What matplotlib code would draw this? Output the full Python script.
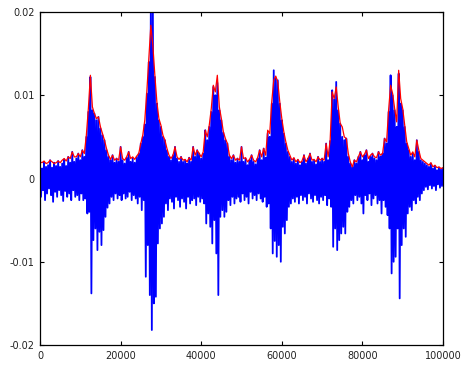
import numpy as np
import matplotlib
matplotlib.use('Agg')
import matplotlib.pyplot as plt

# one reading every 500 samples, from 0 to 100000
step = 500

# blue waveform: highest value in each 500-sample block (x 1e-3)
blueUpper = [1.8, 1.2, 2.0, 1.4, 1.6, 2.2, 1.3, 1.9, 1.5, 2.1,
             1.4, 1.8, 2.3, 1.5, 2.6, 1.9, 3.2, 2.0, 2.4, 3.0,
             2.2, 3.4, 2.6, 5.0, 8.0, 12.2, 8.2, 7.8, 7.0, 7.4,
             6.0, 5.2, 4.6, 3.4, 2.6, 2.2, 2.8, 1.9, 2.4, 2.0,
             3.8, 2.2, 1.8, 2.5, 3.2, 2.0, 2.4, 1.9, 2.6, 3.0,
             4.2, 5.0, 6.5, 10.2, 14.0, 21.0, 21.0, 12.2, 9.0, 7.0,
             6.2, 5.0, 4.6, 3.4, 2.6, 2.2, 2.8, 3.8, 2.4, 2.0,
             2.6, 2.0, 2.2, 1.8, 2.5, 2.0, 3.8, 2.6, 3.4, 3.0,
             2.4, 3.0, 5.8, 4.6, 6.2, 8.0, 11.0, 10.0, 11.5, 8.2,
             7.0, 5.5, 4.6, 4.2, 2.6, 2.2, 2.8, 1.9, 2.4, 2.0,
             3.8, 2.0, 2.4, 1.6, 2.2, 2.8, 2.0, 1.7, 2.4, 3.4,
             2.2, 3.6, 2.5, 5.4, 5.0, 9.0, 13.0, 12.0, 11.8, 9.0,
             7.0, 5.4, 4.2, 3.2, 2.6, 2.0, 2.4, 1.8, 2.2, 1.6,
             2.0, 2.8, 1.8, 2.4, 3.0, 2.0, 2.2, 1.7, 2.6, 2.0,
             2.4, 2.0, 4.2, 2.2, 4.5, 10.6, 9.5, 11.6, 8.2, 6.6,
             5.0, 4.6, 4.8, 2.6, 1.8, 1.4, 2.2, 1.8, 2.6, 3.2,
             2.2, 2.8, 3.4, 2.0, 2.6, 3.0, 2.4, 2.2, 3.2, 2.6,
             3.0, 4.8, 4.2, 8.0, 12.4, 10.0, 8.2, 6.2, 12.6, 9.0,
             8.2, 6.2, 4.2, 3.4, 2.6, 3.0, 2.2, 4.6, 3.2, 2.2,
             2.0, 1.8, 1.6, 1.4, 1.8, 1.2, 1.5, 1.0, 1.3, 1.1,
             1.2]
# blue waveform: lowest value in each 500-sample block (x 1e-3)
blueLower = [-2.2, -1.4, -2.6, -1.8, -1.2, -2.0, -2.8, -1.6, -2.2, -1.4,
             -2.0, -2.7, -1.5, -2.2, -1.8, -2.6, -1.4, -2.2, -2.0, -2.6,
             -1.8, -2.6, -2.4, -4.2, -4.0, -13.8, -7.4, -6.0, -8.6, -6.4,
             -8.0, -6.2, -4.6, -3.5, -3.0, -2.2, -2.6, -1.8, -2.4, -2.0,
             -2.6, -1.8, -2.4, -2.2, -1.6, -2.6, -2.0, -2.4, -3.0, -2.2,
             -3.8, -2.6, -11.8, -8.0, -14.0, -18.2, -15.0, -14.2, -7.8, -6.0,
             -5.4, -4.6, -3.0, -3.8, -2.4, -2.8, -3.6, -2.2, -2.6, -3.4,
             -2.4, -2.8, -3.6, -2.2, -3.0, -2.6, -2.4, -3.2, -2.2, -2.8,
             -2.4, -3.0, -5.4, -4.2, -5.8, -7.8, -5.0, -9.0, -14.0, -4.6,
             -3.8, -4.6, -4.0, -2.6, -3.2, -2.2, -3.0, -2.4, -2.2, -2.8,
             -1.8, -2.6, -2.2, -3.0, -1.6, -2.4, -2.0, -2.6, -1.8, -2.4,
             -2.8, -2.2, -3.4, -3.0, -6.0, -9.0, -7.5, -9.4, -8.0, -10.0,
             -5.8, -6.6, -5.0, -3.4, -3.0, -2.4, -2.8, -2.2, -3.0, -2.0,
             -2.6, -2.2, -3.0, -1.8, -2.4, -2.8, -2.0, -2.6, -3.0, -2.2,
             -2.6, -2.0, -3.2, -2.4, -3.4, -8.2, -6.0, -8.6, -7.4, -6.6,
             -5.8, -6.6, -4.0, -3.4, -2.6, -3.0, -2.0, -2.6, -2.2, -3.0,
             -4.2, -2.0, -2.6, -1.8, -3.2, -2.4, -2.0, -3.0, -2.6, -4.2,
             -2.6, -3.4, -4.4, -6.0, -11.4, -10.0, -9.4, -6.0, -14.4, -8.0,
             -6.0, -7.0, -4.2, -3.4, -3.8, -2.6, -3.0, -2.2, -2.6, -1.8,
             -1.4, -1.0, -1.3, -0.8, -1.2, -0.9, -1.4, -0.7, -1.1, -0.9,
             -1.0]
# red envelope (x 1e-3)
redEnv = [2.0, 1.9, 2.1, 1.8, 1.9, 2.2, 2.0, 1.8, 1.9, 2.1,
          1.9, 2.2, 2.4, 2.1, 2.6, 2.4, 3.2, 2.6, 2.6, 3.0,
          2.6, 3.4, 3.0, 5.2, 8.4, 12.4, 8.6, 7.8, 7.2, 7.4,
          6.2, 5.4, 4.6, 3.6, 2.8, 2.3, 2.8, 2.2, 2.4, 2.2,
          3.8, 2.4, 2.2, 2.6, 3.2, 2.4, 2.6, 2.3, 2.7, 3.0,
          4.2, 5.2, 7.0, 10.4, 14.5, 18.4, 16.0, 12.4, 9.2, 7.2,
          6.4, 5.2, 4.6, 3.6, 2.8, 2.4, 2.8, 3.8, 2.6, 2.3,
          2.6, 2.2, 2.3, 2.0, 2.5, 2.2, 3.8, 2.8, 3.4, 3.0,
          2.6, 3.2, 5.8, 5.0, 6.4, 8.4, 11.2, 10.4, 12.4, 8.6,
          7.2, 5.6, 4.8, 4.2, 2.8, 2.4, 2.8, 2.2, 2.4, 2.2,
          3.8, 2.4, 2.5, 2.0, 2.3, 2.8, 2.2, 2.0, 2.5, 3.4,
          2.6, 3.6, 2.8, 5.8, 5.4, 9.2, 11.8, 12.3, 11.6, 9.2,
          7.2, 5.6, 4.4, 3.4, 2.8, 2.2, 2.5, 2.0, 2.3, 1.9,
          2.1, 2.8, 2.0, 2.4, 3.0, 2.2, 2.3, 2.0, 2.6, 2.2,
          2.4, 2.2, 4.2, 2.6, 4.6, 10.4, 9.6, 11.0, 8.6, 6.6,
          6.2, 5.0, 4.8, 3.0, 2.0, 1.4, 2.2, 2.0, 2.6, 3.2,
          2.6, 2.9, 3.4, 2.4, 2.8, 3.0, 2.6, 2.5, 3.2, 2.8,
          3.0, 4.8, 4.4, 8.2, 11.2, 10.2, 8.4, 6.8, 13.0, 9.6,
          8.4, 6.4, 4.4, 3.6, 2.8, 3.2, 2.6, 4.6, 3.4, 2.4,
          2.2, 2.0, 1.8, 1.6, 1.9, 1.4, 1.6, 1.3, 1.4, 1.2,
          1.3]

yTicks = [-0.02, -0.01, 0, 0.01, 0.02]
yLabels = ['-0.02', '-0.01', '0', '0.01', '0.02']
xTicks = [0, 20000, 40000, 60000, 80000, 100000]
xLabels = ['0', '20000', '40000', '60000', '80000', '100000']

x = np.arange(len(blueUpper)) * step
up = np.array(blueUpper) * 1e-3
lo = np.array(blueLower) * 1e-3
red = np.array(redEnv) * 1e-3

# interleave highs and lows so the waveform zigzags like the real signal
wx = np.empty(2 * len(x))
wy = np.empty(2 * len(x))
wx[0::2] = x
wx[1::2] = x + step / 2
wy[0::2] = up
wy[1::2] = lo

fig = plt.figure(figsize=(4.74, 3.67), dpi=100)
ax = fig.add_axes([0.0844, 0.0599, 0.8502, 0.9074])

ax.plot(wx, wy, color='#0000ff', lw=1.3)
ax.plot(x, red, color='#ff0000', lw=0.9)

ax.set_xlim(0, 100000)
ax.set_ylim(-0.02, 0.02)
ax.set_xticks(xTicks)
ax.set_xticklabels(xLabels)
ax.set_yticks(yTicks)
ax.set_yticklabels(yLabels)
ax.tick_params(direction='in', length=3, width=0.8, top=True, right=True,
               labelsize=7, labelcolor='#222222', pad=4)
for s in ax.spines.values():
    s.set_linewidth(0.9)

fig.savefig('out.png', dpi=100)
